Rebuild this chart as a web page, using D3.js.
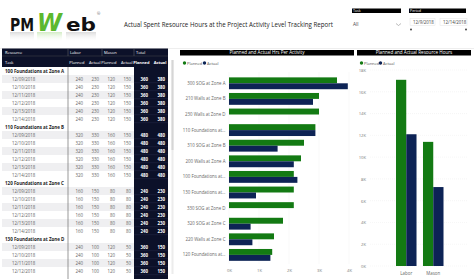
<!DOCTYPE html>
<html>
<head>
<meta charset="utf-8">
<script src="https://cdn.jsdelivr.net/npm/d3@7"></script>
<style>
  html, body { margin: 0; padding: 0; background: #fff; }
  svg { display: block; font-family: "Open Sans", "DejaVu Sans", sans-serif; }
  svg text { font-family: "Open Sans", "DejaVu Sans", sans-serif; }
</style>
</head>
<body>
<svg id="chart" width="474" height="279"></svg>
<script>
// ---- data ----
const activities = [
  '300 SOG at Zone A', '210 Walls at Zone B', '230 Walls at Zone D', '110 Foundations at...',
  '310 SOG at Zone B', '200 Walls at Zone A', '100 Foundations at...', '130 Foundations at...',
  '330 SOG at Zone D', '320 SOG at Zone C', '220 Walls at Zone C', '120 Foundations at...'
];
const plannedHrs = [3600, 3000, 3000, 2880, 2500, 2400, 2160, 2160, 2160, 1800, 1500, 1440];
const actualHrs  = [3960, 2800, 0,    2880, 1620, 2160, 2280, 900,  0,    720,  780,  1380];
const activityTicks = [0, 1000, 2000, 3000, 4000];

const resources = ['Labor', 'Mason'];
const resPlanned = [17100, 11400];
const resActual  = [12100, 7250];
const resourceTicks = [0, 2000, 4000, 6000, 8000, 10000, 12000, 14000, 16000, 18000];

const zones = ['100 Foundations at Zone A', '110 Foundations at Zone B', '120 Foundations at Zone C', '130 Foundations at Zone D'];
const dates = ['12/09/2018', '12/10/2018', '12/11/2018', '12/12/2018', '12/13/2018', '12/14/2018'];
const laborPlanned = [240, 320, 160, 240];
const laborActual  = [230, 330, 150, 100];
const masonPlanned = [120, 160, 80, 120];
const masonActual  = [150, 150, 80, 50];

const GREEN = '#137a13';
const NAVY = '#0d2355';
const DARK = '#0c1129';

const svg = d3.select('#chart');

// ---- header: logo, title, slicers ----
const defs = svg.append('defs');
const grad = defs.append('linearGradient').attr('id', 'refl').attr('x1', 0).attr('y1', 0).attr('x2', 0).attr('y2', 1);
grad.append('stop').attr('offset', 0).attr('stop-color', '#999').attr('stop-opacity', 0.35);
grad.append('stop').attr('offset', 1).attr('stop-color', '#fff').attr('stop-opacity', 0);
const gradG = defs.append('linearGradient').attr('id', 'reflG').attr('x1', 0).attr('y1', 0).attr('x2', 0).attr('y2', 1);
gradG.append('stop').attr('offset', 0).attr('stop-color', '#8fd06a').attr('stop-opacity', 0.4);
gradG.append('stop').attr('offset', 1).attr('stop-color', '#fff').attr('stop-opacity', 0);

const logoParts = [
  { t: 'PM', x: 10, len: 24, fill: '#111', size: 18, italic: false },
  { t: 'W',  x: 37, len: 25, fill: '#5cb82e', size: 24, italic: true },
  { t: 'eb', x: 66, len: 30, fill: '#111', size: 18, italic: false }
];
logoParts.forEach(p => svg.append('text')
  .attr('x', p.x).attr('y', 31)
  .style('font-family', '"DejaVu Sans", sans-serif')
  .attr('font-weight', 'bold').attr('font-size', p.size)
  .attr('font-style', p.italic ? 'italic' : 'normal')
  .attr('textLength', p.len).attr('lengthAdjust', 'spacingAndGlyphs')
  .attr('fill', p.fill).text(p.t));
// soft reflection under the logo
logoParts.forEach(p => svg.append('rect')
  .attr('x', p.x).attr('y', 32).attr('width', p.len).attr('height', 10)
  .attr('fill', p.italic ? 'url(#reflG)' : 'url(#refl)'));
svg.append('text').attr('x', 97).attr('y', 15).attr('font-size', 4).attr('fill', '#666').text('®');

svg.append('text')
  .attr('x', 124).attr('y', 27)
  .attr('font-size', 7.3).attr('fill', '#222')
  .attr('textLength', 209).attr('lengthAdjust', 'spacingAndGlyphs')
  .text('Actual Spent Resource Hours at the Project Activity Level Tracking Report');

// Task slicer
svg.append('rect').attr('x', 352).attr('y', 8.5).attr('width', 49).attr('height', 4.5).attr('fill', '#000');
svg.append('text').attr('x', 353).attr('y', 12.2).attr('font-size', 3.6).attr('fill', '#fff').text('Task');
svg.append('text').attr('x', 353).attr('y', 26).attr('font-size', 4.8).attr('fill', '#444').text('All');
svg.append('path').attr('d', 'M396,23.5 L398.5,25.5 L401,23.5').attr('fill', 'none').attr('stroke', '#777').attr('stroke-width', 0.5);

// Period slicer
svg.append('rect').attr('x', 409).attr('y', 8.5).attr('width', 57).attr('height', 4.5).attr('fill', '#000');
svg.append('text').attr('x', 410).attr('y', 12.2).attr('font-size', 3.6).attr('fill', '#fff').text('Period');
svg.append('rect').attr('x', 410).attr('y', 18.5).attr('width', 25).attr('height', 7).attr('fill', 'none').attr('stroke', '#e4e4e4').attr('stroke-width', 0.5);
svg.append('rect').attr('x', 440).attr('y', 18.5).attr('width', 27).attr('height', 7).attr('fill', 'none').attr('stroke', '#e4e4e4').attr('stroke-width', 0.5);
svg.append('text').attr('x', 413).attr('y', 23.5).attr('font-size', 4.4).attr('fill', '#444').text('12/9/2018');
svg.append('text').attr('x', 443).attr('y', 23.5).attr('font-size', 4.4).attr('fill', '#444').text('12/14/2018');
svg.append('circle').attr('cx', 411).attr('cy', 29.5).attr('r', 0.9).attr('fill', '#333');
svg.append('circle').attr('cx', 466).attr('cy', 29.5).attr('r', 0.9).attr('fill', '#333');

svg.append('line').attr('x1', 0).attr('x2', 474).attr('y1', 48.5).attr('y2', 48.5).attr('stroke', '#e6e6e6').attr('stroke-width', 0.7);

// ---- table ----
const tbl = svg.append('g');
const colEdges = [2, 68, 86, 102, 118, 134, 151, 168];
const headTop = 48.5, headMid = 56, headBot = 67;
const rowH = 8;

// build row list, keep only rows that fit on the page
const rows = [];
zones.forEach((z, i) => {
  rows.push({ group: true, label: z });
  dates.forEach(d => rows.push({
    group: false, label: d,
    vals: [laborPlanned[i], laborActual[i], masonPlanned[i], masonActual[i],
           laborPlanned[i] + masonPlanned[i], laborActual[i] + masonActual[i]]
  }));
});
const shown = rows.filter((r, i) => headBot + (i + 1) * rowH <= 276);
const tableBottom = 279;

tbl.append('rect').attr('x', colEdges[0]).attr('y', headTop).attr('width', colEdges[7] - colEdges[0]).attr('height', headBot - headTop).attr('fill', DARK);

let alt = 0;
shown.forEach((r, i) => {
  const y = headBot + i * rowH;
  if (r.group) { alt = 0; return; }
  if (alt % 2 === 0) {
    tbl.append('rect').attr('x', colEdges[0]).attr('y', y).attr('width', colEdges[5] - colEdges[0]).attr('height', rowH).attr('fill', '#efeff1');
  }
  alt++;
});
// total columns dark block
tbl.append('rect').attr('x', colEdges[5]).attr('y', headBot).attr('width', colEdges[7] - colEdges[5]).attr('height', tableBottom - headBot).attr('fill', DARK);

shown.forEach((r, i) => {
  const y = headBot + i * rowH;
  const ty = y + rowH / 2 + 1.6;
  if (r.group) {
    tbl.append('text').attr('x', 5).attr('y', ty).attr('font-size', 4.5).attr('font-weight', 'bold').attr('fill', '#222').text(r.label);
  } else {
    tbl.append('text').attr('x', 12).attr('y', ty).attr('font-size', 4.4).attr('fill', '#666').text(r.label);
    r.vals.forEach((v, j) => {
      const total = j >= 4;
      tbl.append('text').attr('x', colEdges[j + 2] - 3).attr('y', ty)
        .attr('text-anchor', 'end').attr('font-size', 4.4)
        .attr('font-weight', total ? 'bold' : 'normal')
        .attr('fill', total ? '#fff' : '#666').text(v);
    });
    tbl.append('line').attr('x1', colEdges[5]).attr('x2', colEdges[7]).attr('y1', y + rowH - 0.3).attr('y2', y + rowH - 0.3).attr('stroke', '#2a3050').attr('stroke-width', 0.4);
  }
});
tbl.append('line').attr('x1', colEdges[1]).attr('x2', colEdges[1]).attr('y1', headBot).attr('y2', tableBottom).attr('stroke', '#555').attr('stroke-width', 0.6);

// header texts
const hdr = (x, y, t, anchor, bold) => tbl.append('text').attr('x', x).attr('y', y).attr('font-size', 4)
  .attr('font-weight', bold ? 'bold' : 'normal').attr('fill', '#fff').attr('text-anchor', anchor || 'start').text(t);
hdr(5, 54, 'Resource');
hdr(5, 63.5, 'Task');
hdr(colEdges[1] + 2, 54, 'Labor');
hdr(colEdges[3] + 2, 54, 'Mason');
hdr(colEdges[5] + 2, 54, 'Total');
['Planned', 'Actual', 'Planned', 'Actual'].forEach((t, j) => hdr(colEdges[j + 2] - 1.5, 63.5, t, 'end'));
['Planned', 'Actual'].forEach((t, j) => hdr(colEdges[j + 6] - 1.5, 63.5, t, 'end', true));
[colEdges[1], colEdges[3], colEdges[5]].forEach(x => tbl.append('line').attr('x1', x).attr('x2', x).attr('y1', headTop).attr('y2', headMid).attr('stroke', '#888').attr('stroke-width', 0.4));
tbl.append('line').attr('x1', colEdges[0]).attr('x2', colEdges[7]).attr('y1', headMid).attr('y2', headMid).attr('stroke', '#555').attr('stroke-width', 0.4);

// scrollbar
svg.append('rect').attr('x', 171.5).attr('y', 60).attr('width', 2).attr('height', 214).attr('fill', '#ececec');
svg.append('rect').attr('x', 171.5).attr('y', 60).attr('width', 2).attr('height', 90).attr('fill', '#d6d6d6');

// ---- left chart: hours per activity ----
const titleBar = (x0, x1, text) => {
  svg.append('rect').attr('x', x0).attr('y', 50).attr('width', x1 - x0).attr('height', 5.5).attr('fill', '#000');
  svg.append('text').attr('x', (x0 + x1) / 2).attr('y', 54.3).attr('text-anchor', 'middle')
    .attr('font-size', 4.6).attr('fill', '#fff').text(text);
};
const legend = (x, gap) => {
  const g = svg.append('g');
  g.append('circle').attr('cx', x).attr('cy', 63).attr('r', 1.7).attr('fill', GREEN);
  g.append('text').attr('x', x + 2.5).attr('y', 64.5).attr('font-size', 4).attr('fill', '#555').text('Planned');
  g.append('circle').attr('cx', x + gap).attr('cy', 63).attr('r', 1.7).attr('fill', NAVY);
  g.append('text').attr('x', x + gap + 2.5).attr('y', 64.5).attr('font-size', 4).attr('fill', '#555').text('Actual');
};

titleBar(180, 354, 'Planned and Actual Hrs Per Activity');
legend(184.5, 20);

const x = d3.scaleLinear().domain([0, 4000]).range([229, 349]);
const y = d3.scaleBand().domain(activities).range([75.5, 262.7]).paddingInner(0.24).paddingOuter(0.12);
const bh = y.bandwidth() / 2;

const left = svg.append('g');
left.selectAll('.grid').data(activityTicks).enter().append('line')
  .attr('x1', d => x(d)).attr('x2', d => x(d)).attr('y1', 72).attr('y2', 264)
  .attr('stroke', '#f3f3f3').attr('stroke-width', 0.5);
left.selectAll('.p').data(activities).enter().append('rect')
  .attr('x', x(0)).attr('y', d => y(d))
  .attr('width', (d, i) => x(plannedHrs[i]) - x(0)).attr('height', bh).attr('fill', GREEN);
left.selectAll('.a').data(activities).enter().append('rect')
  .attr('x', x(0)).attr('y', d => y(d) + bh)
  .attr('width', (d, i) => x(actualHrs[i]) - x(0)).attr('height', bh).attr('fill', NAVY);

const yAxis = left.append('g').attr('transform', `translate(${x(0)},0)`)
  .call(d3.axisLeft(y).tickSize(0).tickPadding(3.5));
yAxis.select('.domain').remove();
yAxis.selectAll('text').attr('font-size', 4.4).attr('fill', '#666');

const xAxis = left.append('g').attr('transform', 'translate(0,266)')
  .call(d3.axisBottom(x).tickValues(activityTicks).tickSize(0).tickPadding(3).tickFormat(d => d / 1000 + 'K'));
xAxis.select('.domain').remove();
xAxis.selectAll('text').attr('font-size', 4.2).attr('fill', '#777');

// ---- right chart: resource hours ----
titleBar(357, 471, 'Planned and Actual Resource Hours');
legend(361.5, 19);

const yR = d3.scaleLinear().domain([0, 18000]).range([266, 70]);
const xR = d3.scaleBand().domain(resources).range([369, 470.5]).paddingInner(0.24).paddingOuter(1);
const bw = xR.bandwidth() / 2;

const right = svg.append('g');
right.selectAll('.grid').data(resourceTicks).enter().append('line')
  .attr('x1', 370).attr('x2', 468).attr('y1', d => yR(d)).attr('y2', d => yR(d))
  .attr('stroke', '#ededed').attr('stroke-width', 0.5).attr('stroke-dasharray', '1,1');
right.selectAll('.p').data(resources).enter().append('rect')
  .attr('x', d => xR(d)).attr('y', (d, i) => yR(resPlanned[i]))
  .attr('width', bw).attr('height', (d, i) => yR(0) - yR(resPlanned[i])).attr('fill', GREEN);
right.selectAll('.a').data(resources).enter().append('rect')
  .attr('x', d => xR(d) + bw).attr('y', (d, i) => yR(resActual[i]))
  .attr('width', bw).attr('height', (d, i) => yR(0) - yR(resActual[i])).attr('fill', NAVY);

const yAxisR = right.append('g').attr('transform', 'translate(366,0)')
  .call(d3.axisLeft(yR).tickValues(resourceTicks).tickSize(0).tickPadding(0).tickFormat(d => d / 1000 + 'K'));
yAxisR.select('.domain').remove();
yAxisR.selectAll('text').attr('font-size', 4.2).attr('fill', '#777');

const xAxisR = right.append('g').attr('transform', 'translate(0,269)')
  .call(d3.axisBottom(xR).tickSize(0).tickPadding(3));
xAxisR.select('.domain').remove();
xAxisR.selectAll('text').attr('font-size', 4.4).attr('fill', '#666');
</script>
</body>
</html>
